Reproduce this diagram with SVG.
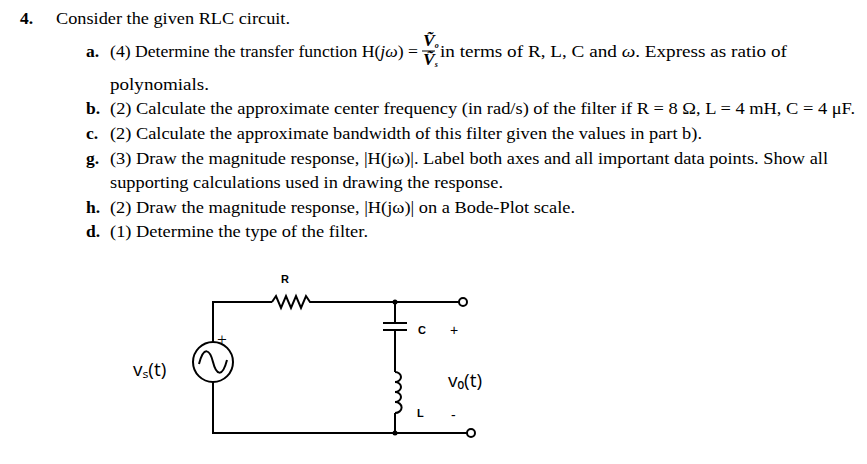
<svg xmlns="http://www.w3.org/2000/svg" width="867" height="464" viewBox="0 0 867 464">
<style>
.t{font-family:"Liberation Serif",serif;font-size:17.5px;fill:#000}
.b{font-weight:bold}
.s{font-family:"Liberation Sans",sans-serif;font-size:11px;font-weight:bold}
.w{fill:none;stroke:#000;stroke-width:2}
</style>
<rect width="867" height="464" fill="#fff"/>
<g id="text">
<text class="t b" x="20" y="24">4.</text>
<text class="t" x="56" y="24" textLength="234" lengthAdjust="spacingAndGlyphs">Consider the given RLC circuit.</text>
<text class="t b" x="86" y="57">a.</text>
<text class="t" x="110" y="57" textLength="308" lengthAdjust="spacingAndGlyphs">(4) Determine the transfer function H(<tspan font-style="italic">jω</tspan>) =</text>
<text class="t b" x="423" y="46" font-size="11" font-style="italic">Ṽ<tspan font-size="8" dy="2">o</tspan></text>
<line x1="422" y1="51" x2="435" y2="51" stroke="#000" stroke-width="1"/>
<text class="t b" x="423" y="65" font-size="11" font-style="italic">Ṽ<tspan font-size="8" dy="2">s</tspan></text>
<text class="t" x="440" y="57" textLength="347" lengthAdjust="spacingAndGlyphs">in terms of R, L, C and <tspan font-style="italic">ω</tspan>. Express as ratio of</text>
<text class="t" x="110" y="90" textLength="99" lengthAdjust="spacingAndGlyphs">polynomials.</text>
<text class="t b" x="86" y="114">b.</text>
<text class="t" x="110" y="114" textLength="745" lengthAdjust="spacingAndGlyphs">(2) Calculate the approximate center frequency (in rad/s) of the filter if R = 8 Ω, L = 4 mH, C = 4 μF.</text>
<text class="t b" x="86" y="139">c.</text>
<text class="t" x="110" y="139" textLength="592" lengthAdjust="spacingAndGlyphs">(2) Calculate the approximate bandwidth of this filter given the values in part b).</text>
<text class="t b" x="86" y="164">g.</text>
<text class="t" x="110" y="164" textLength="718" lengthAdjust="spacingAndGlyphs">(3) Draw the magnitude response, |H(jω)|. Label both axes and all important data points. Show all</text>
<text class="t" x="110" y="188" textLength="393" lengthAdjust="spacingAndGlyphs">supporting calculations used in drawing the response.</text>
<text class="t b" x="86" y="213">h.</text>
<text class="t" x="110" y="213" textLength="465" lengthAdjust="spacingAndGlyphs">(2) Draw the magnitude response, |H(jω)| on a Bode-Plot scale.</text>
<text class="t b" x="86" y="237">d.</text>
<text class="t" x="110" y="237" textLength="258" lengthAdjust="spacingAndGlyphs">(1) Determine the type of the filter.</text>
</g>
<g id="connectors">
<path class="w" d="M272 302 H213 V342 M213 382 V433 H467 M272 302 l4 -6 l5 12 l5 -12 l5 12 l5 -12 l5 12 l5 -12 l4 6 H459 M395 302 V323 M395 330 V372 M395 413 V433"/>
<path class="w" d="M383 323 H407 M383 330 H407"/>
<path class="w" d="M395 372 a6 5 0 0 1 0 10 a6 5 0 0 1 0 10 a6 5 0 0 1 0 10 a6 5 0 0 1 0 11"/>
<circle cx="395" cy="302" r="2.5"/><circle cx="395" cy="433" r="2.5"/>
</g>
<g id="source">
<circle class="w" cx="213" cy="362" r="20"/>
<path class="w" d="M199 364 C204 345 210 350 213 362 C216 374 222 379 227 360"/>
<text class="t" x="217" y="345" font-size="14">+</text>
<text x="133" y="376" font-family="'Open Sans',sans-serif" font-size="19">vₛ(t)</text>
</g>
<g id="terminals">
<circle class="w" cx="463" cy="302" r="4" fill="#fff"/>
<circle class="w" cx="471" cy="433" r="4" fill="#fff"/>
<text class="s" x="281" y="283">R</text>
<text class="s" x="418" y="334">C</text>
<text class="s" x="417" y="417">L</text>
<text x="450" y="335" font-family="'Liberation Sans',sans-serif" font-size="14">+</text>
<text x="451" y="420" font-family="'Liberation Sans',sans-serif" font-size="14">-</text>
<text x="448" y="387" font-family="'Open Sans',sans-serif" font-size="19">v₀(t)</text>
</g>
</svg>
